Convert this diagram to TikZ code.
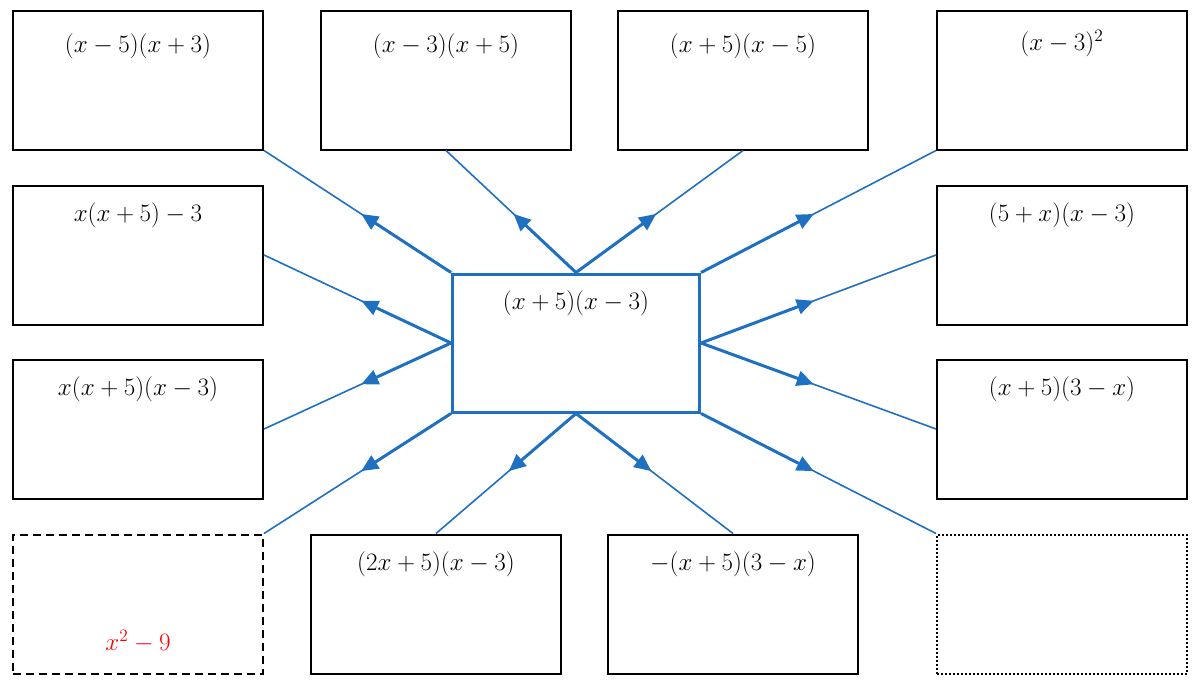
\documentclass[tikz,border=0pt]{standalone}
\usetikzlibrary{calc,arrows.meta,positioning}
\definecolor{linkblue}{RGB}{31,112,192}
\begin{document}
\begin{tikzpicture}[x=1pt,y=-1pt,
    box/.style={draw=black, line width=2pt, minimum width=250pt, minimum height=139pt, inner sep=0pt},
    hub/.style={draw=linkblue, line width=3pt, minimum width=247pt, minimum height=138pt, inner sep=0pt},
    lbl/.style={font=\LARGE, scale=1.45, anchor=north, inner sep=0pt},
    link/.style={draw=linkblue, line width=1.6pt},
    arr/.style={draw=linkblue, line width=3pt, -{Triangle[length=17pt,width=15pt]}}
]
\useasboundingbox (0,0) rectangle (1204,683);
% outer boxes
\node[box] (b1) at (138,80) {};
\node[box] (b2) at (446,80) {};
\node[box] (b3) at (743,80) {};
\node[box] (b4) at (1062,80) {};
\node[box] (b5) at (138,255) {};
\node[box] (b6) at (1062,255) {};
\node[box] (b7) at (138,429) {};
\node[box] (b8) at (1062,429) {};
\node[box, dashed, dash pattern=on 8pt off 5pt] (b9) at (138,604) {};
\node[box] (b10) at (436,604) {};
\node[box] (b11) at (733,604) {};
\node[box, dotted] (b12) at (1062,604) {};
% middle box
\node[hub] (c) at (576,343) {};
% texts
\node[lbl, below=24pt of b1.north] (t1) {$(x-5)(x+3)$};
\node[lbl, below=24pt of b2.north] (t2) {$(x-3)(x+5)$};
\node[lbl, below=24pt of b3.north] (t3) {$(x+5)(x-5)$};
\node[lbl, below=20pt of b4.north] (t4) {$(x-3)^2$};
\node[lbl, below=18pt of b5.north] (t5) {$x(x+5)-3$};
\node[lbl, below=18pt of b6.north] (t6) {$(5+x)(x-3)$};
\node[lbl, below=18pt of b7.north] (t7) {$x(x+5)(x-3)$};
\node[lbl, below=18pt of b8.north] (t8) {$(x+5)(3-x)$};
\node[lbl, below=18pt of b10.north] (t10) {$(2x+5)(x-3)$};
\node[lbl, below=18pt of b11.north] (t11) {$-(x+5)(3-x)$};
\node[lbl, below=18pt of c.north] (tc) {$(x+5)(x-3)$};
\node[lbl, text=red, above=22pt of b9.south] (t9) {$x^2-9$};
% connectors
\foreach \from/\to in {north west/b1.south east, north/b2.south, north/b3.south,
    north east/b4.south west, west/b5.east, east/b6.west, west/b7.east, east/b8.west,
    south west/b9.north east, south/b10.north, south/b11.north, south east/b12.north west}
{
    \draw[link] (c.\from) -- (\to);
    \draw[arr] (c.\from) -- ($(c.\from)!0.48!(\to)$);
}
\end{tikzpicture}
\end{document}
